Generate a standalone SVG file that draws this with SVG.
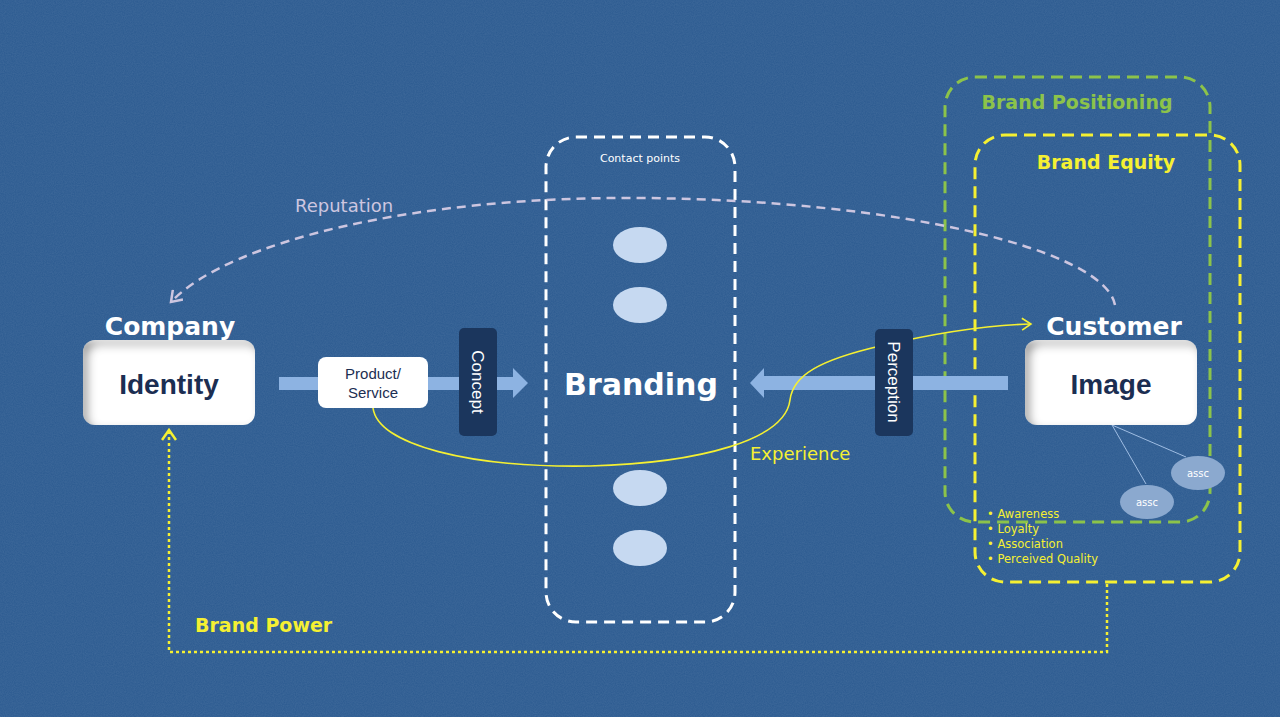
<svg xmlns="http://www.w3.org/2000/svg" width="1280" height="717" viewBox="0 0 1280 717">
<defs>
<filter id="tex" x="0" y="0" width="100%" height="100%">
<feTurbulence type="fractalNoise" baseFrequency="0.9" numOctaves="2" seed="3" result="n"/>
<feColorMatrix in="n" type="matrix" values="0 0 0 0 1  0 0 0 0 1  0 0 0 0 1  0 0 0 0.09 0"/>
</filter>
<filter id="inset" x="-5%" y="-5%" width="110%" height="110%">
<feComponentTransfer in="SourceAlpha" result="inv"><feFuncA type="table" tableValues="1 0"/></feComponentTransfer>
<feGaussianBlur in="inv" stdDeviation="5"/>
<feOffset dx="5" dy="5" result="s"/>
<feFlood flood-color="#000" flood-opacity="0.7"/>
<feComposite in2="s" operator="in"/>
<feComposite in2="SourceAlpha" operator="in" result="sh"/>
<feMerge><feMergeNode in="SourceGraphic"/><feMergeNode in="sh"/></feMerge>
</filter>
<marker id="chevY" markerWidth="14" markerHeight="14" refX="11" refY="7" orient="auto" markerUnits="userSpaceOnUse">
<path d="M2 1 L11 7 L2 13" fill="none" stroke="#f5f032" stroke-width="1.6"/>
</marker>
<marker id="chevL" markerWidth="16" markerHeight="16" refX="12" refY="8" orient="auto" markerUnits="userSpaceOnUse">
<path d="M2 1 L12 8 L2 15" fill="none" stroke="#cdc6e0" stroke-width="2.5"/>
</marker>
<marker id="chevP" markerWidth="16" markerHeight="16" refX="12" refY="8" orient="auto" markerUnits="userSpaceOnUse">
<path d="M2 1 L12 8 L2 15" fill="none" stroke="#f5f032" stroke-width="2.5"/>
</marker>
<style>
.lbl{font-family:"DejaVu Sans",Verdana,sans-serif}
.bold{font-weight:bold}
.arial{font-family:"Liberation Sans",Arial,sans-serif}
.wbox{fill:#ffffff}
.dark{fill:#1b365d}
.oval{fill:#c6d9f1}
.flow{fill:#8db3e2}
</style>
</defs>

<rect width="1280" height="717" fill="#2b5a90"/>
<rect width="1280" height="717" filter="url(#tex)"/>

<!-- frames -->
<g id="brand-positioning">
<rect x="945" y="77" width="265" height="445" rx="30" fill="none" stroke="#8cc34a" stroke-width="3" stroke-dasharray="12 7"/>
<text x="1077" y="109" text-anchor="middle" class="lbl bold" font-size="19" fill="#8cc34a">Brand Positioning</text>
</g>
<g id="brand-equity">
<rect x="975" y="135" width="265" height="447" rx="30" fill="none" stroke="#f5f032" stroke-width="3" stroke-dasharray="12 7"/>
<text x="1106" y="169" text-anchor="middle" class="lbl bold" font-size="19" fill="#f5f032">Brand Equity</text>
<g class="lbl" font-size="11.5" fill="#f5f032">
<text x="987" y="518">• Awareness</text>
<text x="987" y="533">• Loyalty</text>
<text x="987" y="548">• Association</text>
<text x="987" y="563">• Perceived Quality</text>
</g>
</g>

<g id="branding">
<rect x="546" y="137" width="189" height="485" rx="30" fill="none" stroke="#ffffff" stroke-width="3" stroke-dasharray="11 7"/>
<text x="640" y="162" text-anchor="middle" class="lbl" font-size="11" fill="#ffffff">Contact points</text>
<ellipse cx="640" cy="245" rx="27" ry="18" class="oval"/>
<ellipse cx="640" cy="305" rx="27" ry="18" class="oval"/>
<ellipse cx="640" cy="488" rx="27" ry="18" class="oval"/>
<ellipse cx="640" cy="548" rx="27" ry="18" class="oval"/>
</g>

<!-- connectors -->
<g id="connectors">
<path d="M279 377 H513 V368 L528 383 L513 398 V390 H279 Z" class="flow"/>
<path d="M1008 376 H764 V368 L750 383 L764 398 V390 H1008 Z" class="flow"/>
<path d="M373 408 C378 445 470 468 590 466 C700 463 785 440 790 400 C793 375 820 360 880 346 C940 332 990 325 1031 324" fill="none" stroke="#f5f032" stroke-width="1.6" marker-end="url(#chevY)"/>
<path d="M1115 305 C1105 250 900 200 640 198 C420 196 230 240 171 302" fill="none" stroke="#cdc6e0" stroke-width="2.5" stroke-dasharray="9 6" marker-end="url(#chevL)"/>
<path d="M1107 584 V652 H169 V430" fill="none" stroke="#f5f032" stroke-width="2.5" stroke-dasharray="3 3" marker-end="url(#chevP)"/>
<line x1="1112" y1="425" x2="1186" y2="457" stroke="#9fbde3" stroke-width="1"/>
<line x1="1112" y1="425" x2="1146" y2="484" stroke="#9fbde3" stroke-width="1"/>
</g>

<g id="company">
<text x="170" y="335" text-anchor="middle" class="lbl bold" font-size="25" fill="#ffffff">Company</text>
<rect x="83" y="340" width="172" height="85" rx="12" class="wbox" filter="url(#inset)"/>
<text x="169" y="394" text-anchor="middle" class="arial bold" font-size="28" fill="#1b2e52">Identity</text>
</g>

<g id="customer">
<text x="1114" y="335" text-anchor="middle" class="lbl bold" font-size="25" fill="#ffffff">Customer</text>
<rect x="1025" y="340" width="172" height="85" rx="12" class="wbox" filter="url(#inset)"/>
<text x="1111" y="394" text-anchor="middle" class="arial bold" font-size="28" fill="#1b2e52">Image</text>
</g>

<g id="product-service">
<rect x="318" y="357" width="110" height="51" rx="8" class="wbox"/>
<text x="373" y="379" text-anchor="middle" class="arial" font-size="15" fill="#1b2e52">Product/</text>
<text x="373" y="398" text-anchor="middle" class="arial" font-size="15" fill="#1b2e52">Service</text>
</g>

<g id="concept">
<rect x="459" y="328" width="38" height="108" rx="5" class="dark"/>
<text transform="translate(472 382) rotate(90)" text-anchor="middle" class="arial" font-size="17" fill="#ffffff">Concept</text>
</g>

<g id="perception">
<rect x="875" y="329" width="38" height="107" rx="5" class="dark"/>
<text transform="translate(888 382) rotate(90)" text-anchor="middle" class="arial" font-size="17" fill="#ffffff">Perception</text>
</g>

<g id="branding-label">
<text x="641" y="395" text-anchor="middle" class="lbl bold" font-size="30" fill="#ffffff">Branding</text>
</g>

<g id="assc1">
<ellipse cx="1198" cy="473" rx="27" ry="17" fill="#8ba9cf"/>
<text x="1198" y="477" text-anchor="middle" class="lbl" font-size="10" fill="#ffffff">assc</text>
</g>
<g id="assc2">
<ellipse cx="1147" cy="502" rx="27" ry="17" fill="#8ba9cf"/>
<text x="1147" y="506" text-anchor="middle" class="lbl" font-size="10" fill="#ffffff">assc</text>
</g>

<g id="labels">
<text x="295" y="212" class="lbl" font-size="18" fill="#cdc6e0">Reputation</text>
<text x="750" y="460" class="lbl" font-size="18" fill="#f5f032">Experience</text>
<text x="195" y="632" class="lbl bold" font-size="19" fill="#f5f032">Brand Power</text>
</g>
</svg>
